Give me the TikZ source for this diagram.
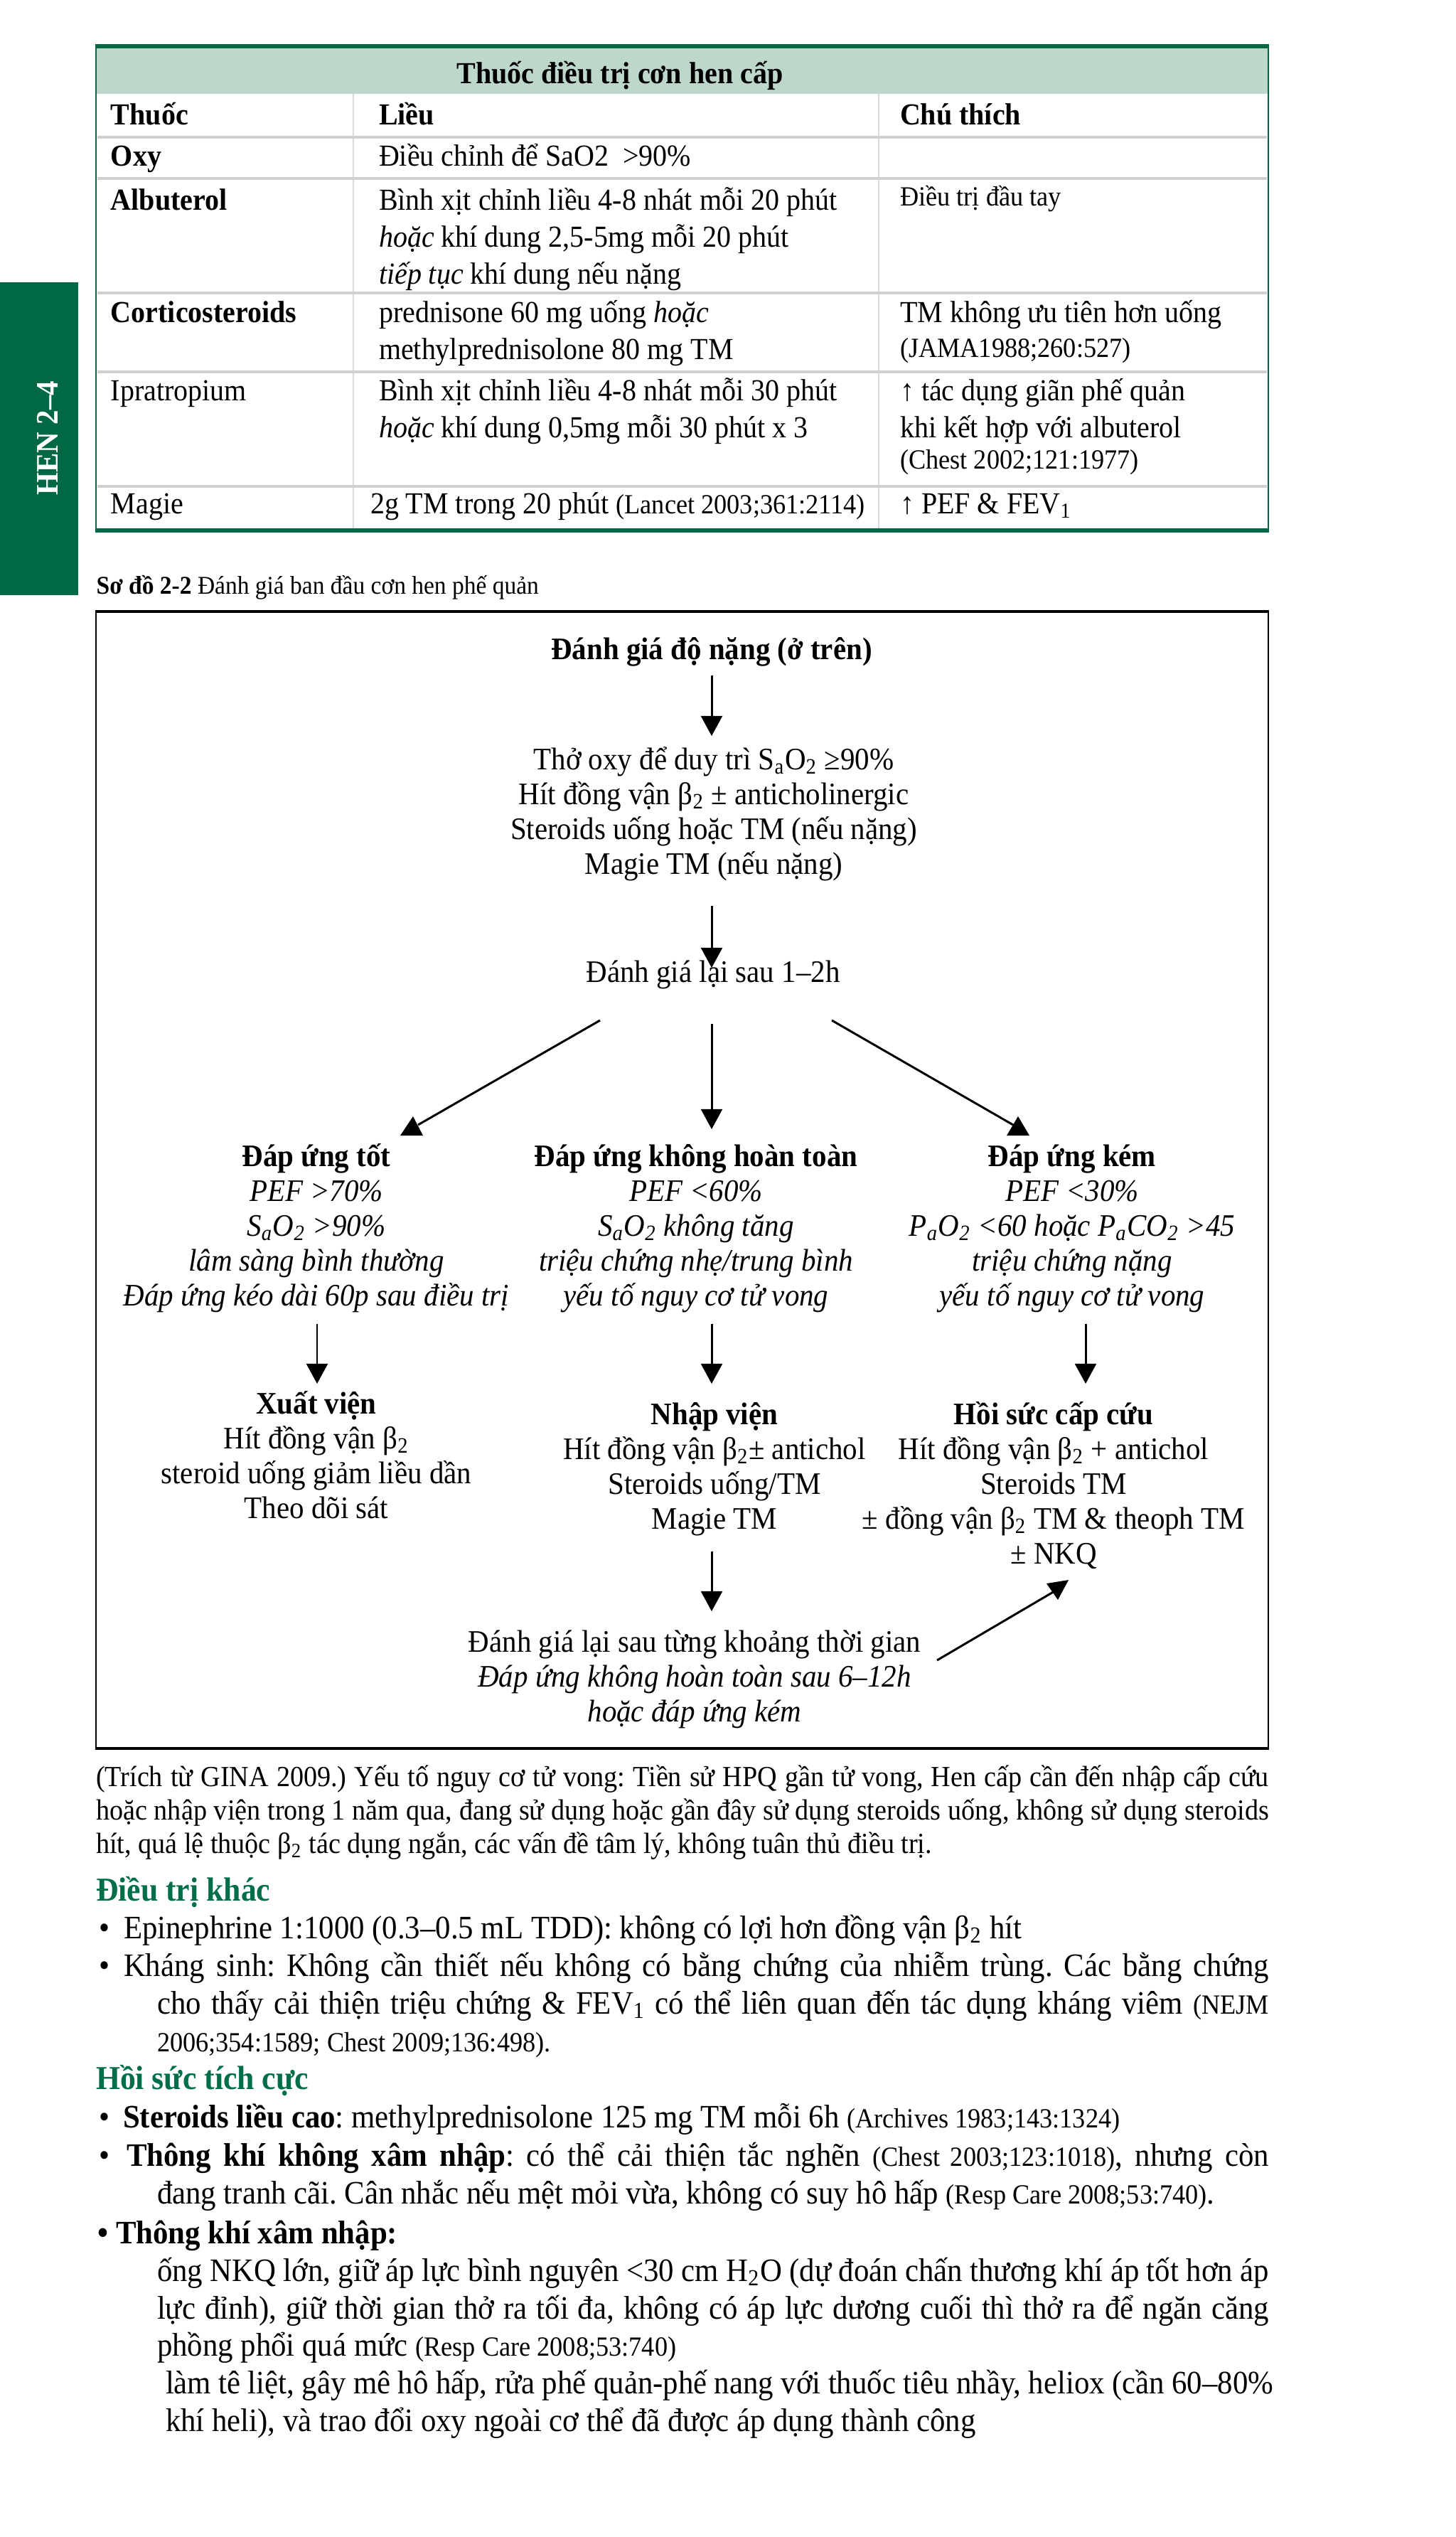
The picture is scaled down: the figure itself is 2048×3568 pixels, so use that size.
\documentclass[tikz,border=0pt]{standalone}
\usepackage{fontspec}
\setmainfont{Liberation Serif}[FakeStretch=0.93]
\usetikzlibrary{arrows.meta,calc}
\AtBeginDocument{\frenchspacing}
\definecolor{hgreen}{RGB}{0,104,66}
\definecolor{hlight}{RGB}{190,215,203}
\definecolor{rowgray}{RGB}{208,208,208}
\definecolor{colgray}{RGB}{218,218,218}
\definecolor{headgreen}{RGB}{0,110,70}
\newcommand\tabfont{\fontsize{12.23pt}{14.8pt}\selectfont}
\newcommand\tabsmall{\fontsize{11.1pt}{12.5pt}\selectfont}
\newcommand\flowfont{\fontsize{12.52pt}{13.94pt}\selectfont}
\newcommand\ginafont{\fontsize{11.67pt}{13.37pt}\selectfont}
\newcommand\bulfont{\fontsize{13.09pt}{15.1pt}\selectfont}
\newcommand\refsmall{\fontsize{11.1pt}{12.5pt}\selectfont}
\newcommand\headfont{\fontsize{13.37pt}{15pt}\selectfont}
\newcommand\capfont{\fontsize{10.24pt}{12pt}\selectfont}
\newcommand\clines[1]{\begin{tabular}[t]{@{}c@{}}#1\end{tabular}}
\newcommand\llines[1]{\begin{tabular}[t]{@{}l@{}}#1\end{tabular}}
\tikzset{
  tt/.style={inner sep=0pt, outer sep=0pt, anchor=base west, font=\tabfont},
  fl/.style={inner sep=0pt, outer sep=0pt, anchor=base, font=\flowfont},
  bt/.style={inner sep=0pt, outer sep=0pt, anchor=base west, font=\bulfont},
  gt/.style={inner sep=0pt, outer sep=0pt, anchor=base west, font=\ginafont},
  sechead/.style={inner sep=0pt, outer sep=0pt, anchor=base west, font=\headfont\bfseries, text=headgreen},
  arr/.style={line width=0.85pt, -{Triangle[width=8.5pt,length=8pt]}},
  ln/.style={line width=0.85pt},
  headtri/.style={fill=black},
  rowsep/.style={draw=rowgray, line width=1.1pt},
  colsep/.style={draw=colgray, line width=0.6pt},
}
\begin{document}
\begin{tikzpicture}[x=0.01cm,y=-0.01cm]
\useasboundingbox (0,0) rectangle (2048,3568);
\fill[white] (0,0) rectangle (2048,3568);

% side tab
\fill[hgreen] (0,397) rectangle (110,837);
\node[inner sep=0pt, rotate=90, text=white, font=\fontsize{12.52pt}{14pt}\selectfont\bfseries] (tab) at (67,616) {HEN 2–4};

% table
\fill[hlight] (135,65) rectangle (1784,132);
\draw[colsep] (497,132) -- (497,746);
\draw[colsep] (1236,132) -- (1236,746);
\foreach \yy in {193,251,412,523,684} {\draw[rowsep] (137,\yy) -- (1782,\yy);}
\draw[hgreen, line width=0.8pt] (135,65) rectangle (1784,746);
\draw[hgreen, line width=1.6pt] (134,65) -- (1785,65);
\draw[hgreen, line width=1.6pt] (134,746) -- (1785,746);

\node[tt, anchor=base, font=\tabfont\bfseries] (ttl) at (872,117) {Thuốc điều trị cơn hen cấp};
\node[tt, font=\tabfont\bfseries] (h1) at (156,175) {Thuốc};
\node[tt, font=\tabfont\bfseries] (h2) at (533,175) {Liều};
\node[tt, font=\tabfont\bfseries] (h3) at (1266,175) {Chú thích};
\node[tt, font=\tabfont\bfseries] (r1a) at (156,233) {Oxy};
\node[tt] (r1b) at (533,233) {Điều chỉnh để SaO2 \ >90\%};
\node[tt, font=\tabfont\bfseries] (r2a) at (156,295) {Albuterol};
\node[tt] (r2b) at (533,295) {\llines{Bình xịt chỉnh liều 4-8 nhát mỗi 20 phút\\ \textit{hoặc} khí dung 2,5-5mg mỗi 20 phút\\ \textit{tiếp tục} khí dung nếu nặng}};
\node[tt, font=\tabsmall] (r2c) at (1266,289) {Điều trị đầu tay};
\node[tt, font=\tabfont\bfseries] (r3a) at (156,453) {Corticosteroids};
\node[tt] (r3b) at (533,453) {\llines{prednisone 60 mg uống \textit{hoặc}\\ methylprednisolone 80 mg TM}};
\node[tt] (r3c) at (1266,453) {TM không ưu tiên hơn uống};
\node[tt, font=\tabsmall] (r3d) at (1266,502) {(JAMA1988;260:527)};
\node[tt] (r4a) at (156,563) {Ipratropium};
\node[tt] (r4b) at (533,563) {\llines{Bình xịt chỉnh liều 4-8 nhát mỗi 30 phút\\ \textit{hoặc} khí dung 0,5mg mỗi 30 phút x 3}};
\node[tt] (r4c) at (1266,563) {\llines{↑ tác dụng giãn phế quản\\ khi kết hợp với albuterol}};
\node[tt, font=\tabsmall] (r4d) at (1266,659) {(Chest 2002;121:1977)};
\node[tt] (r5a) at (156,722) {Magie};
\node[tt] (r5b) at (521,722) {2g TM trong 20 phút {\tabsmall (Lancet 2003;361:2114)}};
\node[tt] (r5c) at (1266,722) {↑ PEF \& FEV\textsubscript{1}};

% caption
\node[inner sep=0pt, anchor=base west, font=\capfont] (cap) at (135,835) {\textbf{Sơ đồ 2-2} Đánh giá ban đầu cơn hen phế quản};

% flowchart frame
\draw[line width=0.6pt] (135,860) rectangle (1784,2459);
\draw[line width=1.2pt] (134,860) -- (1785,860);
\draw[line width=1.2pt] (134,2459) -- (1785,2459);

% flowchart nodes
\node[fl, font=\flowfont\bfseries] (f0) at (1001,927) {Đánh giá độ nặng (ở trên)};
\node[fl] (f1) at (1004,1082) {\clines{Thở oxy để duy trì S\textsubscript{a}O\textsubscript{2} ≥90\%\\ Hít đồng vận β\textsubscript{2} ± anticholinergic\\ Steroids uống hoặc TM (nếu nặng)\\ Magie TM (nếu nặng)}};
\node[fl] (f2) at (1003,1381) {Đánh giá lại sau 1–2h};
\node[fl] (gL) at (445,1640) {\clines{\textbf{Đáp ứng tốt}\\ \textit{PEF >70\%}\\ \textit{S\textsubscript{a}O\textsubscript{2} >90\%}\\ \textit{lâm sàng bình thường}\\ \textit{Đáp ứng kéo dài 60p sau điều trị}}};
\node[fl] (gM) at (979,1640) {\clines{\textbf{Đáp ứng không hoàn toàn}\\ \textit{PEF <60\%}\\ \textit{S\textsubscript{a}O\textsubscript{2} không tăng}\\ \textit{triệu chứng nhẹ/trung bình}\\ \textit{yếu tố nguy cơ tử vong}}};
\node[fl] (gR) at (1508,1640) {\clines{\textbf{Đáp ứng kém}\\ \textit{PEF <30\%}\\ \textit{P\textsubscript{a}O\textsubscript{2} <60 hoặc P\textsubscript{a}CO\textsubscript{2} >45}\\ \textit{triệu chứng nặng}\\ \textit{yếu tố nguy cơ tử vong}}};
\node[fl] (xL) at (445,1988) {\clines{\textbf{Xuất viện}\\ Hít đồng vận β\textsubscript{2}\\ steroid uống giảm liều dần\\ Theo dõi sát}};
\node[fl] (xM) at (1005,2003) {\clines{\textbf{Nhập viện}\\ Hít đồng vận β\textsubscript{2}± antichol\\ Steroids uống/TM\\ Magie TM}};
\node[fl] (xR) at (1482,2003) {\clines{\textbf{Hồi sức cấp cứu}\\ Hít đồng vận β\textsubscript{2} + antichol\\ Steroids TM\\ ± đồng vận β\textsubscript{2} TM \& theoph TM\\ ± NKQ}};
\node[fl] (fb) at (977,2323) {\clines{Đánh giá lại sau từng khoảng thời gian\\ \textit{Đáp ứng không hoàn toàn sau 6–12h}\\ \textit{hoặc đáp ứng kém}}};

% connectors
\draw[arr] ($(f0.base)+(0,23)$) -- ($(f0.base |- f1.base)+(0,-47)$);
\draw[arr] ($(f0.base |- f2.base)+(0,-107)$) -- ($(f0.base |- f2.base)+(0,-20)$);
\draw[arr] ($(f0.base |- f2.base)+(0,59)$) -- ($(f0.base |- gM.base)+(0,-52)$);
% left diagonal
\draw[ln] ($(f2.base)+(-159,54)$) -- ($(gL.base)+(143,-58)$);
\fill[headtri] ($(gL.base)+(136,-70)$) -- ($(gL.base)+(118,-43)$) -- ($(gL.base)+(150,-43)$) -- cycle;
% right diagonal
\draw[ln] ($(f2.base)+(167,54)$) -- ($(gR.base)+(-83,-58)$);
\fill[headtri] ($(gR.base)+(-76,-70)$) -- ($(gR.base)+(-92,-43)$) -- ($(gR.base)+(-60,-43)$) -- cycle;
% short arrows
\draw[arr] ($(gL.base)+(1,222)$) -- ($(gL.base |- xL.base)+(1,-42)$);
\draw[arr] ($(f0.base |- gM.base)+(0,222)$) -- ($(f0.base |- xM.base)+(0,-57)$);
\draw[arr] ($(gR.base)+(19,222)$) -- ($(gR.base |- xR.base)+(19,-57)$);
\draw[arr] ($(f0.base |- xM.base)+(0,179)$) -- ($(f0.base |- fb.base)+(0,-57)$);
% up diagonal
\draw[ln] ($(fb.base)+(341,12)$) -- ($(xR.base)+(1,235)$);
\fill[headtri] ($(xR.base)+(-10,224)$) -- ($(xR.base)+(21,219)$) -- ($(xR.base)+(6,247)$) -- cycle;

% text below
\node[gt] (g1) at (135,2512) {\makebox[16.49cm][s]{(Trích từ GINA 2009.) Yếu tố nguy cơ tử vong: Tiền sử HPQ gần tử vong, Hen cấp cần đến nhập cấp cứu}};
\node[gt] (g2) at (135,2559) {\makebox[16.49cm][s]{hoặc nhập viện trong 1 năm qua, đang sử dụng hoặc gần đây sử dụng steroids uống, không sử dụng steroids}};
\node[gt] (g3) at (135,2606) {hít, quá lệ thuộc β\textsubscript{2} tác dụng ngắn, các vấn đề tâm lý, không tuân thủ điều trị.};

\node[sechead] (s1) at (135,2673) {Điều trị khác};
\node[bt] (d1) at (139,2726) {•};
\node[bt] (b1) at (174,2726) {Epinephrine 1:1000 (0.3–0.5 mL TDD): không có lợi hơn đồng vận β\textsubscript{2} hít};
\node[bt] (d2) at (139,2779) {•};
\node[bt] (b2) at (174,2779) {\makebox[16.10cm][s]{Kháng sinh: Không cần thiết nếu không có bằng chứng của nhiễm trùng. Các bằng chứng}};
\node[bt] (b2b) at (221,2832) {\makebox[15.63cm][s]{cho thấy cải thiện triệu chứng \& FEV\textsubscript{1} có thể liên quan đến tác dụng kháng viêm {\refsmall (NEJM}}};
\node[bt, font=\refsmall] (b2c) at (221,2885) {2006;354:1589; Chest 2009;136:498).};

\node[sechead] (s2) at (135,2938) {Hồi sức tích cực};
\node[bt] (d3) at (139,2992) {•};
\node[bt] (b3) at (173,2992) {\textbf{Steroids liều cao}: methylprednisolone 125 mg TM mỗi 6h {\refsmall (Archives 1983;143:1324)}};
\node[bt] (d4) at (139,3046) {•};
\node[bt] (b4) at (178,3046) {\makebox[16.06cm][s]{\textbf{Thông khí không xâm nhập}: có thể cải thiện tắc nghẽn {\refsmall (Chest 2003;123:1018)}, nhưng còn}};
\node[bt] (b4b) at (221,3099) {đang tranh cãi. Cân nhắc nếu mệt mỏi vừa, không có suy hô hấp {\refsmall (Resp Care 2008;53:740)}.};
\node[bt] (d5) at (137,3155) {\textbf{•}};
\node[bt] (b5) at (163,3155) {\textbf{Thông khí xâm nhập:}};
\node[bt] (b5a) at (221,3208) {\makebox[15.63cm][s]{ống NKQ lớn, giữ áp lực bình nguyên <30 cm H\textsubscript{2}O (dự đoán chấn thương khí áp tốt hơn áp}};
\node[bt] (b5b) at (221,3261) {\makebox[15.63cm][s]{lực đỉnh), giữ thời gian thở ra tối đa, không có áp lực dương cuối thì thở ra để ngăn căng}};
\node[bt] (b5c) at (221,3313) {phồng phổi quá mức {\refsmall (Resp Care 2008;53:740)}};
\node[bt] (b5d) at (233,3366) {\makebox[15.57cm][s]{làm tê liệt, gây mê hô hấp, rửa phế quản-phế nang với thuốc tiêu nhầy, heliox (cần 60–80\%}};
\node[bt] (b5e) at (233,3419) {khí heli), và trao đổi oxy ngoài cơ thể đã được áp dụng thành công};
\end{tikzpicture}
\end{document}
